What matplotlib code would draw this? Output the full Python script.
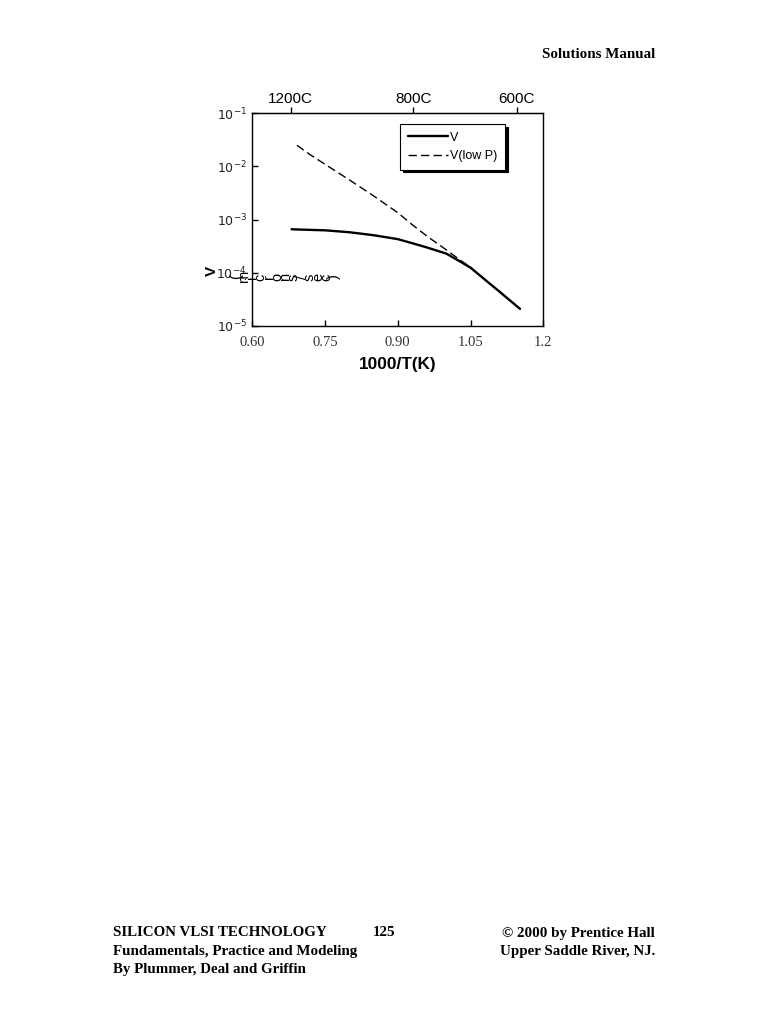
import matplotlib
matplotlib.use("Agg")
import matplotlib.pyplot as plt
import numpy as np

plt.rcParams["mathtext.fontset"] = "custom"
plt.rcParams["mathtext.rm"] = "Liberation Sans"
plt.rcParams["mathtext.it"] = "Liberation Sans"
plt.rcParams["mathtext.default"] = "regular"

# ---- data ----
x_v = [0.681, 0.70, 0.75, 0.80, 0.85, 0.90, 0.93, 0.96, 1.00, 1.03, 1.05, 1.08, 1.11, 1.152]
y_v = [6.6e-4, 6.5e-4, 6.3e-4, 5.8e-4, 5.1e-4, 4.3e-4, 3.6e-4, 3.0e-4, 2.3e-4, 1.6e-4, 1.25e-4, 7.4e-5, 4.4e-5, 2.1e-5]
x_lp = [0.692, 0.72, 0.75, 0.80, 0.85, 0.90, 0.93, 0.96, 1.00, 1.03, 1.05, 1.08, 1.11, 1.152]
y_lp = [2.5e-2, 1.65e-2, 1.1e-2, 5.6e-3, 2.8e-3, 1.35e-3, 8.0e-4, 4.9e-4, 2.7e-4, 1.7e-4, 1.27e-4, 7.4e-5, 4.4e-5, 2.1e-5]
x_ticks = [0.60, 0.75, 0.90, 1.05, 1.2]
x_ticklabels = ["0.60", "0.75", "0.90", "1.05", "1.2"]
y_ticks = [1e-5, 1e-4, 1e-3, 1e-2, 1e-1]
y_ticklabels = ["10$^{-5}$", "10$^{-4}$", "10$^{-3}$", "10$^{-2}$", "10$^{-1}$"]
top_temps_C = [1200, 800, 600]
top_labels = ["1200C", "800C", "600C"]
legend_labels = ["V", "V(low P)"]

W, H = 768, 1024
fig = plt.figure(figsize=(W / 100, H / 100), dpi=100)
fig.patch.set_facecolor("white")

L, R, T, B = 252.3, 543.3, 113.3, 326.0
ax = fig.add_axes([L / W, 1 - B / H, (R - L) / W, (B - T) / H])
ax.set_xlim(0.6, 1.2)
ax.set_yscale("log")
ax.set_ylim(1e-5, 1e-1)

ax.plot(x_v, y_v, color="black", lw=1.7, solid_capstyle="round", solid_joinstyle="round",
        label=legend_labels[0])
ax.plot(x_lp, y_lp, color="black", lw=1.0, dashes=(6, 3), label=legend_labels[1])

ax.set_xticks(x_ticks)
ax.set_xticklabels(x_ticklabels, family="Liberation Serif", fontsize=10.5, color="#333333")
ax.set_yticks(y_ticks)
ax.set_yticklabels(y_ticklabels, fontsize=9, color="#222222")
ax.yaxis.set_minor_locator(matplotlib.ticker.NullLocator())
ax.tick_params(axis="x", direction="in", length=4, width=1, pad=7)
ax.tick_params(axis="y", direction="in", length=4, width=1, pad=4)
for s in ax.spines.values():
    s.set_linewidth(1.0)

ax.set_xlabel("1000/T(K)", family="Liberation Sans", fontweight="bold", fontsize=12.4, labelpad=6)

# top axis in Celsius
top = ax.secondary_xaxis("top")
top.set_xticks([1000.0 / (t + 273.15) for t in top_temps_C])
top.set_xticklabels(top_labels, family="Liberation Sans", fontsize=11)
top.tick_params(direction="out", length=4, width=1, pad=1)

leg = ax.legend(loc="upper left", bbox_to_anchor=(0.509, 0.948), frameon=True, fancybox=False,
                shadow={"color": "black", "alpha": 1.0}, edgecolor="black",
                prop={"family": "Liberation Sans", "size": 9.0}, handlelength=3.2,
                borderpad=0.6, labelspacing=0.5, handletextpad=0.2, borderaxespad=0)
leg.get_frame().set_linewidth(0.8)

# garbled y label as in the reference
fig.text(212 / W, 1 - 271 / H, "V", rotation=90, family="Liberation Sans", fontweight="bold",
         fontsize=11, ha="center", va="center")
chars = "(microns/sec)"
for i, c in enumerate(chars):
    fig.text((236 + i * 8.2) / W, 1 - 277 / H, c, rotation=90, family="Liberation Sans",
             fontsize=10.5, ha="center", va="center")

serif = "Liberation Serif"
fs = 10.8
fig.text(655 / W, 1 - 55 / H, "Solutions Manual", family=serif, fontweight="bold",
         fontsize=fs, ha="right", va="center")
fig.text(113 / W, 1 - 933 / H, "SILICON VLSI TECHNOLOGY", family=serif, fontweight="bold",
         fontsize=fs, ha="left", va="center")
fig.text(373 / W, 1 - 933 / H, "125", family=serif, fontweight="bold", fontsize=fs,
         ha="left", va="center")
fig.text(655 / W, 1 - 933 / H, "© 2000 by Prentice Hall", family=serif, fontweight="bold",
         fontsize=fs, ha="right", va="center")
fig.text(113 / W, 1 - 952 / H, "Fundamentals, Practice and Modeling", family=serif,
         fontweight="bold", fontsize=fs, ha="left", va="center")
fig.text(655 / W, 1 - 952 / H, "Upper Saddle River, NJ.", family=serif, fontweight="bold",
         fontsize=fs, ha="right", va="center")
fig.text(113 / W, 1 - 970 / H, "By Plummer, Deal and Griffin", family=serif, fontweight="bold",
         fontsize=fs, ha="left", va="center")

fig.savefig("out.png", dpi=100)
